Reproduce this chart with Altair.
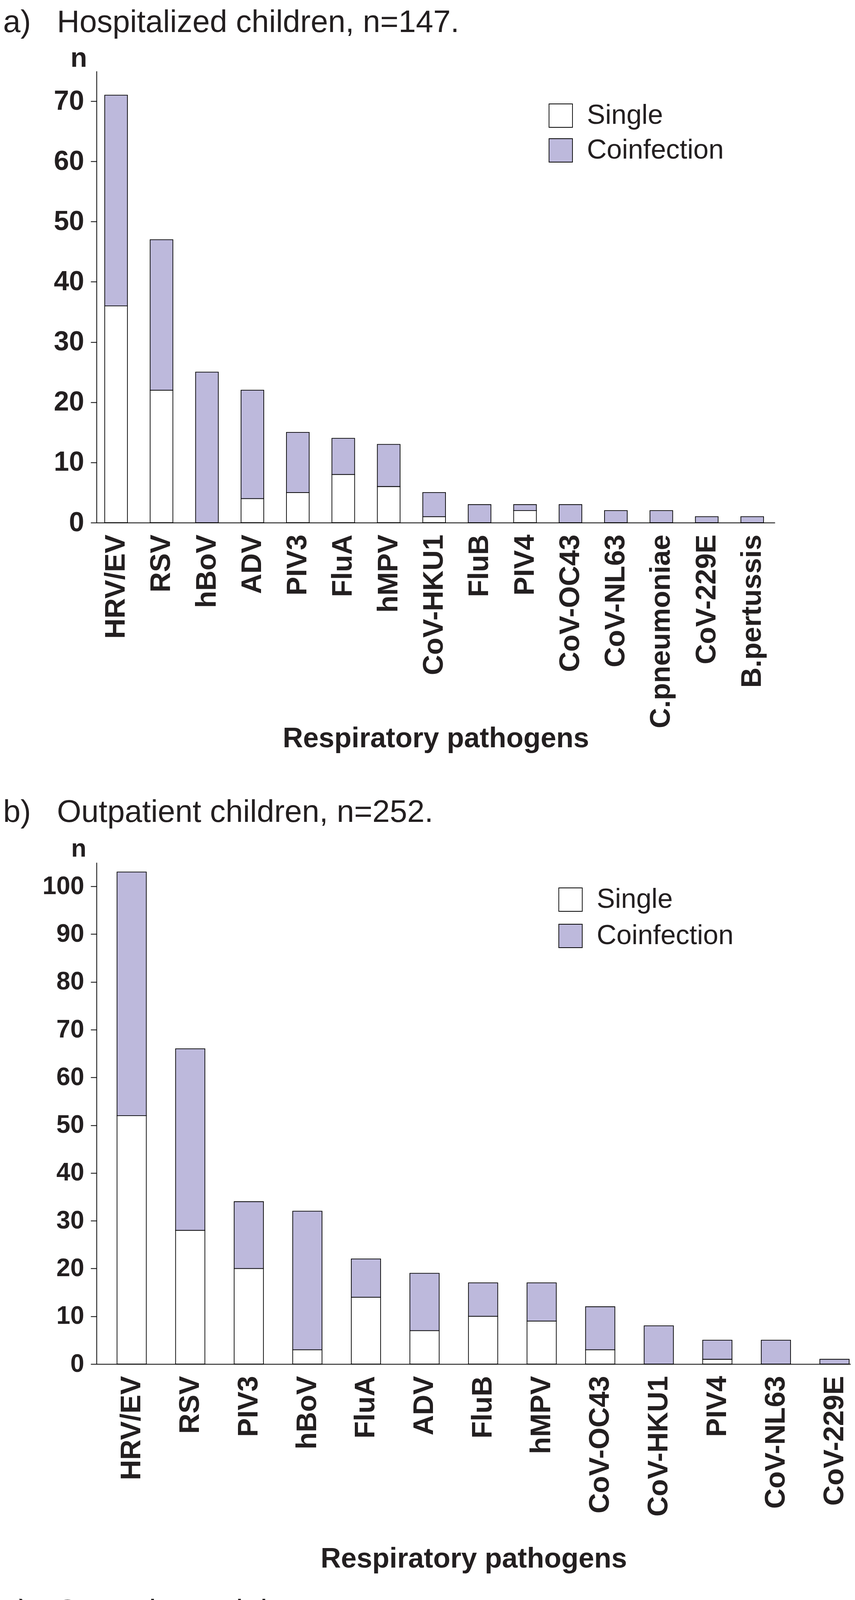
import altair as alt
import pandas as pd

SANS = "Liberation Sans, Arial, sans-serif"
NARROW = "Liberation Sans Narrow, Arial Narrow, Liberation Sans, sans-serif"
INK = "#231f20"
LAVENDER = "#bdb9dc"
TYPES = ["Single", "Coinfection"]
X_TITLE = "Respiratory pathogens"

# a) hospitalized children
A_TITLE = "a)\u00a0\u00a0\u00a0Hospitalized children, n=147."
A_PATHOGENS = ["HRV/EV", "RSV", "hBoV", "ADV", "PIV3", "FluA", "hMPV", "CoV-HKU1",
               "FluB", "PIV4", "CoV-OC43", "CoV-NL63", "C.pneumoniae", "CoV-229E", "B.pertussis"]
A_TOTAL = [71, 47, 25, 22, 15, 14, 13, 5, 3, 3, 3, 2, 2, 1, 1]
A_SINGLE = [36, 22, 0, 4, 5, 8, 6, 1, 0, 2, 0, 0, 0, 0, 0]
A_TICKS = [0, 10, 20, 30, 40, 50, 60, 70]

# b) outpatient children
B_TITLE = "b)\u00a0\u00a0\u00a0Outpatient children, n=252."
B_PATHOGENS = ["HRV/EV", "RSV", "PIV3", "hBoV", "FluA", "ADV", "FluB", "hMPV",
               "CoV-OC43", "CoV-HKU1", "PIV4", "CoV-NL63", "CoV-229E"]
B_TOTAL = [103, 66, 34, 32, 22, 19, 17, 17, 12, 8, 5, 5, 1]
B_SINGLE = [52, 28, 20, 3, 14, 7, 10, 9, 3, 0, 1, 0, 0]
B_TICKS = [0, 10, 20, 30, 40, 50, 60, 70, 80, 90, 100]

# c) outpatient adults
C_TITLE = "c)\u00a0\u00a0\u00a0Outpatient adults, n=111."
C_PATHOGENS = ["HRV/EV", "FluA", "RSV", "hMPV", "CoV-OC43", "CoV-HKU1", "ADV", "FluB",
               "PIV2", "PIV3", "PIV4", "CoV-NL63"]
C_TOTAL = [30, 22, 10, 7, 7, 4, 3, 2, 2, 1, 1, 1]
C_SINGLE = [23, 17, 9, 6, 7, 4, 2, 2, 1, 1, 1, 0]
C_TICKS = [0, 10, 20, 30]

LEFT = 239  # distance from page content edge to the y axis


def build_rows(pathogens, total, single):
    rows = []
    for p, t, s in zip(pathogens, total, single):
        if s > 0:
            rows.append({"pathogen": p, "type": "Single", "n": s, "ord": 0})
        if t - s > 0:
            rows.append({"pathogen": p, "type": "Coinfection", "n": t - s, "ord": 1})
    return pd.DataFrame(rows)


def make_panel(pathogens, total, single, title, ymax, ticks, lay):
    df = build_rows(pathogens, total, single)

    # an empty second title line pads the gap below panel a
    x_title = [X_TITLE, ""] if lay.get("extra", 0) else X_TITLE
    x_axis = alt.Axis(
        title=x_title, titleY=lay["xtitle_y"], titleBaseline="alphabetic",
        titleFont=SANS, titleFontWeight="bold", titleFontSize=72, titleColor=INK,
        titleLineHeight=lay.get("extra", 72),
        labelAngle=-90, labelFont=SANS, labelFontWeight="bold", labelFontSize=72,
        labelColor=INK, labelPadding=30, labelLimit=1000, labelOverlap=False,
        ticks=False, tickSize=0, domainColor="black", domainWidth=lay["axis_w"],
    )
    y_axis = alt.Axis(
        values=ticks, title="n", titleAngle=0, titleX=-46, titleY=lay["n_y"],
        titleAlign="center", titleBaseline="alphabetic", titleFont=NARROW,
        titleFontWeight="bold", titleFontSize=lay["tick_fs"], titleColor=INK,
        labelFont=NARROW, labelFontWeight="bold", labelFontSize=lay["tick_fs"],
        labelColor=INK, labelPadding=17, tickSize=15, tickWidth=lay["axis_w"],
        tickColor="black", domainColor="black", domainWidth=lay["axis_w"], grid=False,
    )
    legend = alt.Legend(
        title=None, orient="none", legendX=lay["leg_x"], legendY=lay["leg_y"],
        symbolType="square", symbolSize=3600, symbolStrokeColor="black",
        symbolStrokeWidth=1.8, symbolOpacity=1, labelFont=SANS, labelFontSize=70,
        labelColor=INK, labelOffset=32, labelLimit=1000, rowPadding=lay["row_pad"],
        padding=0,
    )

    bars = alt.Chart(df).mark_bar(stroke="black", strokeWidth=1.8, opacity=1).encode(
        x=alt.X("pathogen:N", sort=pathogens, axis=x_axis,
                scale=alt.Scale(paddingInner=0.5, paddingOuter=lay["po"], align=lay["align"])),
        y=alt.Y("n:Q", stack="zero", axis=y_axis,
                scale=alt.Scale(domain=[0, ymax], nice=False, zero=True)),
        fill=alt.Fill("type:N", legend=legend,
                      scale=alt.Scale(domain=TYPES, range=["white", LAVENDER])),
        order=alt.Order("ord:Q"),
    )

    heading = alt.Chart(pd.DataFrame({"label": [title]})).mark_text(
        align="left", baseline="alphabetic", font=SANS, fontSize=80, color=INK,
    ).encode(x=alt.value(-LEFT), y=alt.value(lay["title_y"]), text="label:N")

    return alt.layer(bars, heading).properties(width=lay["w"], height=lay["h"])


panel_a = make_panel(A_PATHOGENS, A_TOTAL, A_SINGLE, A_TITLE, 75, A_TICKS, {
    "w": 1736, "h": 1156, "po": 0.215, "align": 0.42, "tick_fs": 70, "axis_w": 2,
    "title_y": -100, "n_y": -12, "leg_x": 1153, "leg_y": 79, "row_pad": 19,
    "xtitle_y": 574, "extra": 53,
})
panel_b = make_panel(B_PATHOGENS, B_TOTAL, B_SINGLE, B_TITLE, 105, B_TICKS, {
    "w": 1930, "h": 1284, "po": 0.1885, "align": 0.929, "tick_fs": 64, "axis_w": 2,
    "title_y": -104, "n_y": -16, "leg_x": 1178, "leg_y": 60, "row_pad": 23,
    "xtitle_y": 520,
})
panel_c = make_panel(C_PATHOGENS, C_TOTAL, C_SINGLE, C_TITLE, 35, C_TICKS, {
    "w": 1909, "h": 1258, "po": 0.271, "align": 0.407, "tick_fs": 57, "axis_w": 3,
    "title_y": -112, "n_y": 10, "leg_x": 1193, "leg_y": 79, "row_pad": 44,
    "xtitle_y": 510,
})

chart = (
    alt.vconcat(panel_a, panel_b, panel_c, spacing=61)
    .resolve_scale(x="independent", y="independent", fill="independent")
    .properties(padding={"left": 0, "top": 10, "right": 0, "bottom": 0}, background="white")
    .configure_view(stroke=None)
)

chart.save("out.html", embed_options={"renderer": "svg", "actions": False})
